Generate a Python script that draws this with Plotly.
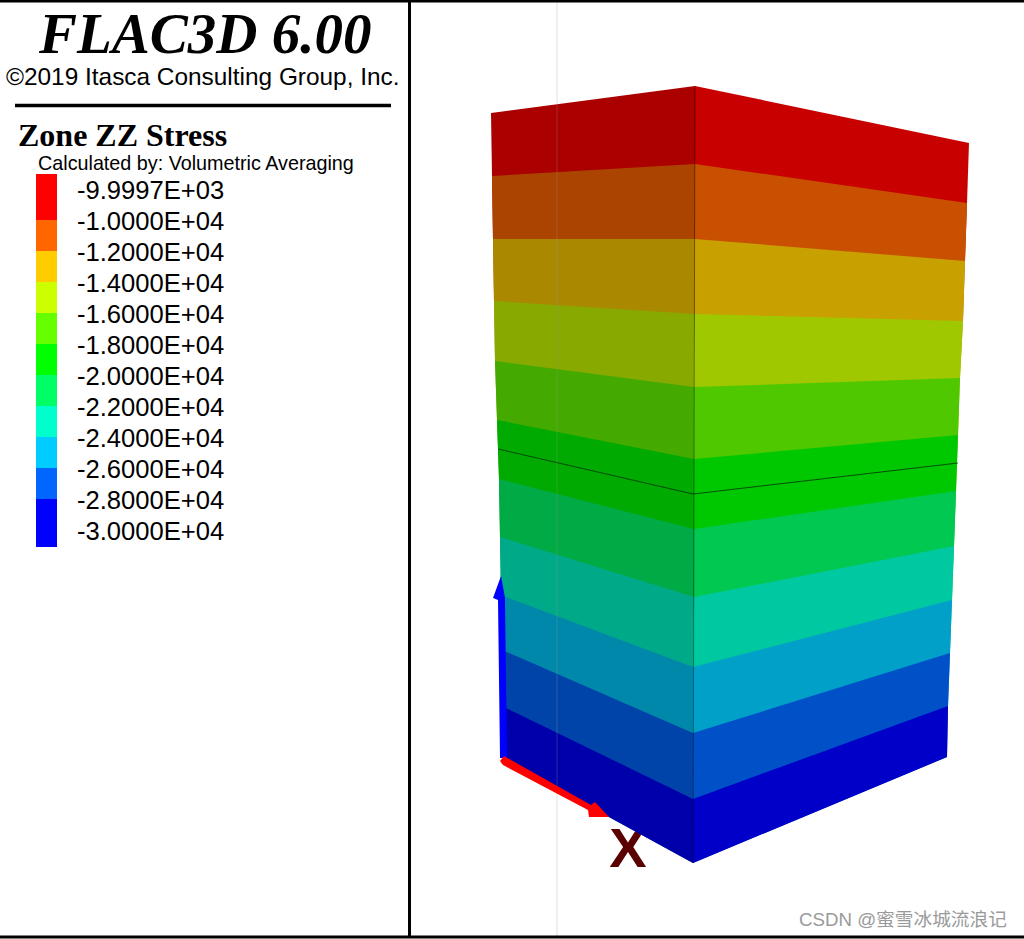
"""FLAC3D zone stress plot: contour legend on the left, the stressed block on the right."""

import plotly.graph_objects as go

WIDTH = 1024
HEIGHT = 939

# legend
legend_labels = [
    "-9.9997E+03", "-1.0000E+04", "-1.2000E+04", "-1.4000E+04",
    "-1.6000E+04", "-1.8000E+04", "-2.0000E+04", "-2.2000E+04",
    "-2.4000E+04", "-2.6000E+04", "-2.8000E+04", "-3.0000E+04",
]
legend_label_y = [190, 221, 252, 283, 314, 345, 376, 407, 438, 469, 500, 531]
legend_edges = [174, 220, 251, 282, 313, 344, 375, 406, 437, 468, 499, 547]
legend_colors = [
    "#ff0000", "#ff6600", "#ffcc00", "#ccff00", "#66ff00", "#00ff00",
    "#00ff66", "#00ffcc", "#00ccff", "#0066ff", "#0000ff",
]

# stress band boundaries down the three vertical edges of the block, top to bottom
left_x = [491, 492, 493, 494, 495, 497, 499, 500, 501, 502, 502, 503]
left_y = [113, 176, 239, 301, 361, 420, 479, 537, 595, 650, 706, 759]
mid_x = [695, 695, 695, 695, 694, 694, 694, 694, 693, 693, 693, 693]
mid_y = [86, 164, 239, 314, 387, 459, 529, 597, 667, 733, 799, 863]
right_x = [969, 967, 965, 963, 960, 958, 956, 954, 952, 950, 948, 947]
right_y = [143, 203, 261, 321, 378, 435, 491, 546, 600, 653, 706, 757]

left_colors = [
    "#aa0000", "#aa4400", "#aa8800", "#88aa00", "#44aa00", "#00aa00",
    "#00aa44", "#00aa88", "#0088aa", "#0044aa", "#0000aa",
]
right_colors = [
    "#c80000", "#c85000", "#c8a000", "#a0c800", "#50c800", "#00c800",
    "#00c850", "#00c8a0", "#00a0c8", "#0050c8", "#0000c8",
]

# mesh line around the block
seam_x = [498, 693, 958]
seam_y = [449, 494, 463]

# axis arrows
z_arrow_x = [500, 507, 505, 505, 501, 493, 498]
z_arrow_y = [758, 758, 600, 598, 576, 598, 600]
x_arrow_x = [500, 503, 588, 589, 609, 595, 591, 504]
x_arrow_y = [761, 765, 810, 817, 817, 802, 805, 756]

SANS = "Liberation Sans"
SERIF = "Liberation Serif"

fig = go.Figure()


def add_polygon(xs, ys, color):
    fig.add_scatter(
        x=xs, y=ys, mode="lines", fill="toself", fillcolor=color,
        line=dict(width=0, color=color), hoverinfo="skip", showlegend=False,
    )


def add_line(xs, ys, color, width):
    fig.add_scatter(
        x=xs, y=ys, mode="lines", line=dict(color=color, width=width),
        hoverinfo="skip", showlegend=False,
    )


# the axis letter sits behind the block, so it goes in first
fig.add_scatter(
    x=[628], y=[853], mode="text", text=["<b>X</b>"], textposition="middle center",
    textfont=dict(family=SANS, size=56, color="#5a0000"),
    hoverinfo="skip", showlegend=False,
)

# each band runs on through the next one, which paints over it,
# this avoids white hairlines between neighbouring polygons
for i, color in enumerate(left_colors):
    j = min(i + 2, len(left_x) - 1)
    add_polygon(
        [left_x[i], mid_x[i], mid_x[i + 1], mid_x[j], left_x[j], left_x[i + 1]],
        [left_y[i], mid_y[i], mid_y[i + 1], mid_y[j], left_y[j], left_y[i + 1]],
        color,
    )
for i, color in enumerate(right_colors):
    j = min(i + 2, len(right_x) - 1)
    add_polygon(
        [mid_x[i], right_x[i], right_x[i + 1], right_x[j], mid_x[j], mid_x[i + 1]],
        [mid_y[i], right_y[i], right_y[i + 1], right_y[j], mid_y[j], mid_y[i + 1]],
        color,
    )

add_line(seam_x, seam_y, "rgba(0,50,0,0.8)", 1)
add_line([mid_x[0], mid_x[-1]], [mid_y[0], mid_y[-1]], "rgba(0,0,0,0.4)", 1)
add_line([557, 557], [0, 936], "rgba(150,150,150,0.3)", 1)

add_polygon(z_arrow_x, z_arrow_y, "#0000ff")
add_polygon(x_arrow_x, x_arrow_y, "#ff0000")

# legend swatches
fig.add_bar(
    x=[46.5] * len(legend_colors),
    y=[b - a for a, b in zip(legend_edges[:-1], legend_edges[1:])],
    base=legend_edges[:-1],
    width=21,
    marker=dict(color=legend_colors, line=dict(width=0)),
    hoverinfo="skip",
    showlegend=False,
)

# frame
add_line([0, WIDTH], [1, 1], "black", 3)
add_line([0, WIDTH], [937, 937], "black", 3)
add_line([409.5, 409.5], [0, 937], "black", 3)
add_line([15, 391], [105.5, 105.5], "black", 3.5)


def add_text(x, y, text, size, family=SANS, color="black", anchor="left"):
    fig.add_annotation(
        x=x, y=y, text=text, showarrow=False, xanchor=anchor, yanchor="middle",
        font=dict(family=family, size=size, color=color), borderpad=0,
    )


add_text(205, 33, "<b><i>FLAC3D 6.00</i></b>", 57, SERIF, anchor="center")
add_text(203, 76, "©2019 Itasca Consulting Group, Inc.", 24.4, anchor="center")
add_text(17, 135, "<b>Zone ZZ Stress</b>", 32, SERIF)
add_text(37, 163, "Calculated by: Volumetric Averaging", 19.75)
for label, y in zip(legend_labels, legend_label_y):
    add_text(76, y, label, 25.6)
add_text(1008, 919, "CSDN @蜜雪冰城流浪记", 18.7, f"{SANS}, Noto Sans CJK SC", "#9a9a9a", "right")

fig.update_layout(
    width=WIDTH,
    height=HEIGHT,
    margin=dict(l=0, r=0, t=0, b=0),
    paper_bgcolor="white",
    plot_bgcolor="white",
    barmode="overlay",
    showlegend=False,
)
fig.update_xaxes(range=[0, WIDTH], visible=False, fixedrange=True)
fig.update_yaxes(range=[HEIGHT, 0], visible=False, fixedrange=True)

fig.write_html(
    "out.html",
    config={"displayModeBar": False},
    post_script="document.body.style.margin='0';document.body.style.overflow='hidden';",
)
